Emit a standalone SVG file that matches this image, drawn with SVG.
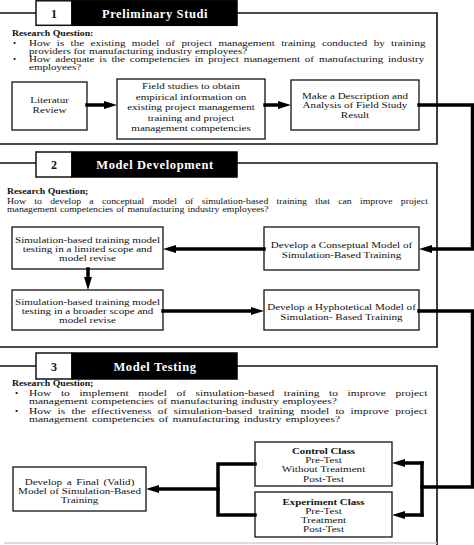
<svg xmlns="http://www.w3.org/2000/svg" width="474" height="545" viewBox="0 0 474 545">
<defs>
<style>
.f{font-family:"Liberation Serif","Times New Roman",serif;fill:#111}
.rq{font-size:8.5px;font-weight:bold}
.p{font-size:8.5px}
.p3{font-size:9px}
.bx{font-size:9px;text-anchor:middle}
.bb{font-weight:bold}
.hd{font-family:"Liberation Serif","Times New Roman",serif;font-size:12.5px;font-weight:bold;letter-spacing:0.6px;text-anchor:middle;fill:#fff}
.num{font-family:"Liberation Serif","Times New Roman",serif;font-size:12px;font-weight:bold;text-anchor:middle;fill:#111}
.panel{fill:none;stroke:#111;stroke-width:1.6}
.box{fill:#fff;stroke:#111;stroke-width:1.3}
.tabw{fill:#fff;stroke:#111;stroke-width:1.5}
.tabb{fill:#000;stroke:#000;stroke-width:1.5}
.conn{fill:none;stroke:#000;stroke-width:3.5;stroke-linecap:square}
.arr{marker-end:url(#ah)}
</style>
<marker id="ah" markerUnits="userSpaceOnUse" markerWidth="14" markerHeight="9" refX="1" refY="4" orient="auto">
<path d="M0,0 L13,4 L0,8 z" fill="#000"/>
</marker>
</defs>
<rect width="474" height="545" fill="#fff"/>

<!-- Panel 1 -->
<g id="panel1">
<path class="panel" d="M0,13 H437 V144 H0"/>
<rect class="tabw" x="36" y="0.8" width="36" height="24.5"/>
<rect class="tabb" x="72" y="0.8" width="165" height="24.5"/>
<text class="num" x="54" y="17.5">1</text>
<text class="hd" x="155" y="17.5">Preliminary Studi</text>
<text class="f rq" transform="translate(12,36) scale(1.15,1)">Research Question:</text>
<text class="f p" x="13" y="45.5">•</text>
<text class="f p" transform="translate(29,45.5) scale(1.3,1)" style="word-spacing:2.8px">How is the existing model of project management training conducted by training</text>
<text class="f p" transform="translate(29,53.5) scale(1.3,1)">providers for manufacturing industry employees?</text>
<text class="f p" x="13" y="62">•</text>
<text class="f p" transform="translate(29,62) scale(1.3,1)" style="word-spacing:1.6px">How adequate is the competencies in project management of manufacturing industry</text>
<text class="f p" transform="translate(29,70) scale(1.3,1)">employees?</text>
</g>

<g id="literatur">
<rect class="box" x="12" y="82" width="75" height="48"/>
<text class="f bx" transform="translate(49.5,103) scale(1.23,1)">Literatur</text>
<text class="f bx" transform="translate(49.5,112.5) scale(1.23,1)">Review</text>
</g>
<g id="field">
<rect class="box" x="117" y="79" width="148" height="60"/>
<text class="f bx" transform="translate(191,89) scale(1.23,1)">Field studies to obtain</text>
<text class="f bx" transform="translate(191,99.5) scale(1.23,1)">empirical information on</text>
<text class="f bx" transform="translate(191,110) scale(1.23,1)">existing project management</text>
<text class="f bx" transform="translate(191,120.5) scale(1.23,1)">training and project</text>
<text class="f bx" transform="translate(191,131) scale(1.23,1)">management competencies</text>
</g>
<g id="describe">
<rect class="box" x="291" y="80" width="128" height="50"/>
<text class="f bx" transform="translate(355,98.5) scale(1.23,1)">Make a Description and</text>
<text class="f bx" transform="translate(355,108) scale(1.23,1)">Analysis of Field Study</text>
<text class="f bx" transform="translate(355,117.5) scale(1.23,1)">Result</text>
</g>

<!-- Panel 2 -->
<g id="panel2">
<path class="panel" d="M0,163 H437 V347 H0"/>
<rect class="tabw" x="36" y="152" width="36" height="25"/>
<rect class="tabb" x="72" y="152" width="165" height="25"/>
<text class="num" x="54" y="169">2</text>
<text class="hd" x="155" y="169">Model Development</text>
<text class="f rq" transform="translate(7,193.5) scale(1.15,1)">Research Question;</text>
<text class="f p" transform="translate(7,203.5) scale(1.15,1)" style="word-spacing:5.1px">How to develop a conceptual model of simulation-based training that can improve project</text>
<text class="f p" transform="translate(7,211.5) scale(1.15,1)" style="word-spacing:0.6px">management competencies of manufacturing industry employees?</text>
</g>

<g id="sim-limited">
<rect class="box" x="12" y="227" width="151" height="42"/>
<text class="f bx" transform="translate(87.5,243) scale(1.23,1)">Simulation-based training model</text>
<text class="f bx" transform="translate(87.5,252) scale(1.23,1)">testing in a limited scope and</text>
<text class="f bx" transform="translate(87.5,261) scale(1.23,1)">model revise</text>
</g>
<g id="conceptual">
<rect class="box" x="264" y="227" width="155" height="43"/>
<text class="f bx" transform="translate(341.5,247.5) scale(1.23,1)">Develop a Conseptual Model of</text>
<text class="f bx" transform="translate(341.5,257.5) scale(1.23,1)">Simulation-Based Training</text>
</g>
<g id="sim-broader">
<rect class="box" x="12" y="290" width="151" height="40"/>
<text class="f bx" transform="translate(87.5,305) scale(1.23,1)">Simulation-based training model</text>
<text class="f bx" transform="translate(87.5,314) scale(1.23,1)">testing in a broader scope and</text>
<text class="f bx" transform="translate(87.5,323) scale(1.23,1)">model revise</text>
</g>
<g id="hypothetical">
<rect class="box" x="264" y="290" width="155" height="40"/>
<text class="f bx" transform="translate(341.5,309.5) scale(1.23,1)">Develop a Hyphotetical Model of</text>
<text class="f bx" transform="translate(341.5,319.5) scale(1.23,1)">Simulation- Based Training</text>
</g>

<!-- Panel 3 -->
<g id="panel3">
<path class="panel" d="M0,366 H437 V545"/>
<path d="M4,543 H437" fill="none" stroke="#cfcfcf" stroke-width="1.5"/>
<rect class="tabw" x="36" y="353" width="36" height="26"/>
<rect class="tabb" x="72" y="353" width="165" height="26"/>
<text class="num" x="54" y="371">3</text>
<text class="hd" x="155" y="371">Model Testing</text>
<text class="f rq" transform="translate(12,386) scale(1.15,1)">Research Question;</text>
<text class="f p3" x="15" y="395.5">•</text>
<text class="f p3" transform="translate(29,395.5) scale(1.28,1)" style="word-spacing:5.2px">How to implement model of simulation-based training to improve project</text>
<text class="f p3" transform="translate(29,404) scale(1.28,1)" style="word-spacing:0.5px">management competencies of manufacturing industry employees?</text>
<text class="f p3" x="15" y="413.5">•</text>
<text class="f p3" transform="translate(29,413.5) scale(1.28,1)" style="word-spacing:2.6px">How is the effectiveness of simulation-based training model to improve project</text>
<text class="f p3" transform="translate(29,422) scale(1.28,1)" style="word-spacing:1px">management competencies of manufacturing industry employees?</text>
</g>

<g id="control">
<rect class="box" x="255" y="442" width="137" height="44"/>
<text class="f bx bb" transform="translate(323.5,453.5) scale(1.2,1)">Control Class</text>
<text class="f bx" transform="translate(323.5,462.5) scale(1.23,1)">Pre-Test</text>
<text class="f bx" transform="translate(323.5,472) scale(1.23,1)">Without Treatment</text>
<text class="f bx" transform="translate(323.5,481.5) scale(1.23,1)">Post-Test</text>
</g>
<g id="experiment">
<rect class="box" x="255" y="492" width="137" height="45"/>
<text class="f bx bb" transform="translate(323.5,504.5) scale(1.2,1)">Experiment Class</text>
<text class="f bx" transform="translate(323.5,513.5) scale(1.23,1)">Pre-Test</text>
<text class="f bx" transform="translate(323.5,522.5) scale(1.23,1)">Treatment</text>
<text class="f bx" transform="translate(323.5,532) scale(1.23,1)">Post-Test</text>
</g>
<g id="final">
<rect class="box" x="13" y="467" width="133" height="44"/>
<text class="f bx" transform="translate(79.5,485) scale(1.23,1)" style="word-spacing:1.5px">Develop a Final (Valid)</text>
<text class="f bx" transform="translate(79.5,494) scale(1.23,1)">Model of Simulation-Based</text>
<text class="f bx" transform="translate(79.5,503) scale(1.23,1)">Training</text>
</g>

<g id="connectors">
<path class="conn arr" d="M87,105 H105"/>
<path class="conn arr" d="M265,105 H279"/>
<path class="conn arr" d="M419,105 H472.5 V249 H431"/>
<path class="conn arr" d="M264,249 H175"/>
<path class="conn arr" d="M88,269 V278"/>
<path class="conn arr" d="M163,311 H252"/>
<path class="conn" d="M419,311 H472.5 V487 H422"/>
<path class="conn" d="M422,463 V515"/>
<path class="conn arr" d="M422,463 H404"/>
<path class="conn arr" d="M422,515 H404"/>
<path class="conn" d="M255,464 H218 V515 H255"/>
<path class="conn arr" d="M218,489 H158"/>
</g>
</svg>
